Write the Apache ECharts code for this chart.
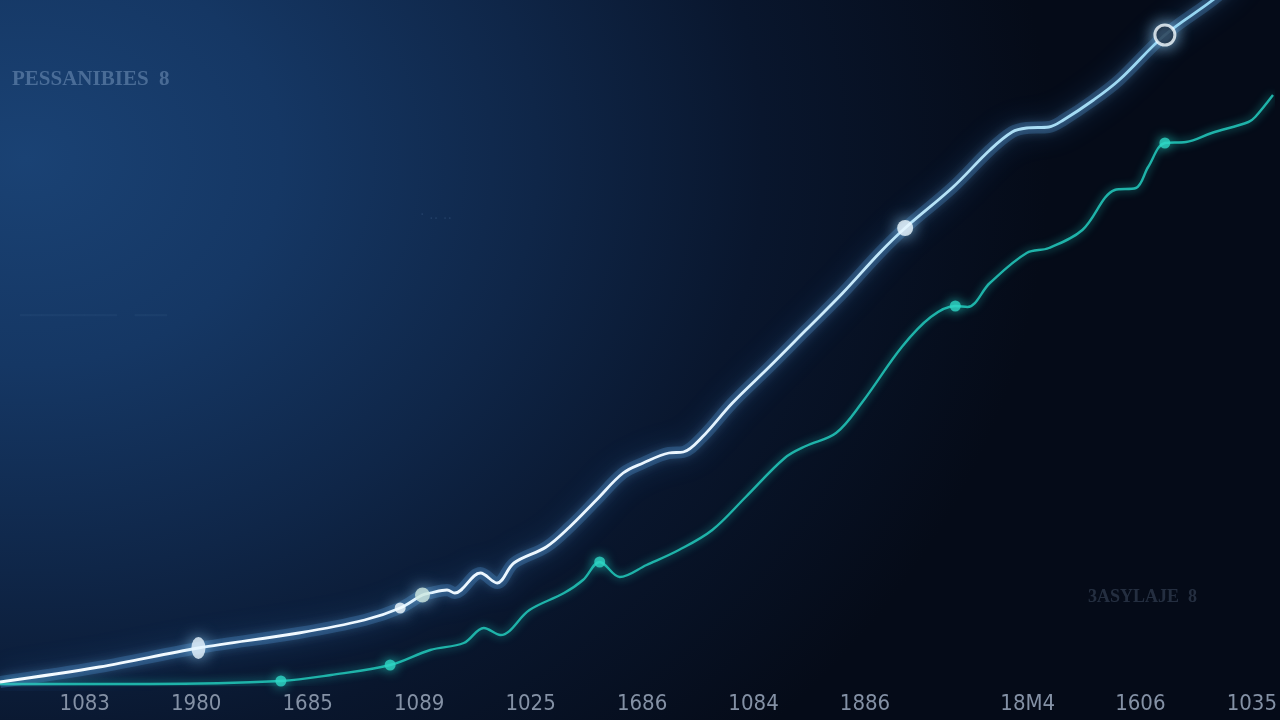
<!DOCTYPE html>
<html>
<head>
<meta charset="utf-8">
<script src="https://cdn.jsdelivr.net/npm/echarts@6/dist/echarts.min.js"></script>
<style>
html,body{margin:0;padding:0;width:1280px;height:720px;overflow:hidden;}
body{background:radial-gradient(ellipse 80% 115% at 2% 22%, #1a4274 0%, #153764 25%, #0f2648 50%, #09162d 72%, #050b18 100%);}
#chart{width:1280px;height:720px;}
</style>
</head>
<body>
<div id="chart"></div>
<script>
// x tick positions (in axis units) and their labels
const xTickValues = [0, 1, 2, 3, 4, 5, 6, 7, 8.46, 9.47, 10.47];
const xTickLabels = ['1083', '1980', '1685', '1089', '1025', '1686', '1084', '1886', '18M4', '1606', '1035'];

// upper (white) series
const whiteX = [-0.76, 0.13, 1.02, 1.92, 2.51, 2.83, 3.03, 3.10, 3.25, 3.32, 3.55, 3.70, 3.85, 4.14, 4.35, 4.59, 4.83, 5.01, 5.24, 5.37, 5.54, 5.81, 6.14, 6.47, 6.80, 7.13, 7.36, 7.79, 8.12, 8.32, 8.45, 8.65, 8.78, 9.05, 9.28, 9.69, 10.12, 10.38];
const whiteY = [0.6, 3.6, 7.4, 10.4, 13.0, 15.4, 18.0, 18.4, 19.0, 18.4, 22.4, 20.4, 24.4, 27.6, 31.6, 37.0, 42.4, 44.4, 46.4, 46.6, 49.6, 56.4, 63.6, 71.0, 78.4, 86.4, 91.4, 99.6, 107.0, 110.6, 111.4, 111.6, 113.0, 117.0, 121.0, 130.0, 137.0, 142.0];
const whiteMarkers = [2, 5, 6, 26, 35];

// lower (teal) series
const tealX = [-0.76, 0.58, 1.76, 2.21, 2.74, 3.10, 3.40, 3.58, 3.73, 3.99, 4.30, 4.47, 4.62, 4.80, 5.04, 5.33, 5.63, 5.93, 6.28, 6.47, 6.74, 6.97, 7.33, 7.59, 7.81, 7.92, 8.12, 8.45, 8.65, 8.95, 9.24, 9.43, 9.54, 9.69, 9.88, 10.11, 10.44, 10.50, 10.66];
const tealY = [0.2, 0.2, 0.8, 2.0, 4.0, 7.0, 8.4, 11.4, 10.0, 15.0, 18.4, 21.0, 24.6, 21.6, 24.0, 27.0, 31.0, 37.6, 45.4, 47.8, 50.4, 56.4, 67.6, 73.6, 75.8, 75.6, 80.4, 86.4, 87.4, 91.0, 99.0, 99.4, 103.6, 108.4, 108.6, 110.4, 112.6, 113.6, 118.0];
const tealMarkers = [2, 4, 12, 24, 33];

const pairs = (xs, ys) => xs.map((x, i) => [x, ys[i]]);
const whiteData = pairs(whiteX, whiteY);
const tealData = pairs(tealX, tealY);

const whiteMarkStyle = {
  2: {size: [14, 22], color: '#e9f6ff', border: 0},
  5: {size: 11, color: '#f2fbff', border: 0},
  6: {size: 15, color: '#cfe9e0', border: 0},
  26: {size: 16, color: '#eef9ff', border: 0},
  35: {size: 20, color: '#07101f', border: 3}
};

const chart = echarts.init(document.getElementById('chart'), null, {renderer: 'canvas'});
chart.setOption({
  backgroundColor: 'transparent',
  animation: false,
  grid: {left: 0, right: 0, top: 0, bottom: 35, containLabel: false},
  xAxis: {
    type: 'value', min: -0.76, max: 10.66,
    axisLine: {show: false}, axisTick: {show: false}, splitLine: {show: false},
    axisLabel: {
      customValues: xTickValues,
      margin: 8,
      color: '#8491a5',
      fontSize: 22,
      fontFamily: "'Liberation Sans Narrow', 'DejaVu Sans Condensed', 'Liberation Sans', sans-serif",
      formatter: function (v) {
        let best = 0;
        for (let i = 0; i < xTickValues.length; i++) {
          if (Math.abs(xTickValues[i] - v) < Math.abs(xTickValues[best] - v)) best = i;
        }
        return xTickLabels[best];
      }
    }
  },
  yAxis: {type: 'value', min: 0, max: 137, show: false, splitLine: {show: false}},
  graphic: [
    {type: 'text', left: 12, top: 69, silent: true, style: {text: 'PESSANIBIES  8', fill: 'rgba(150,180,215,0.40)', font: "bold 21px 'Liberation Serif', serif"}},
    {type: 'text', left: 20, top: 302, silent: true, style: {text: '▁▁▁▁▁▁▁▁▁    ▁▁▁', fill: 'rgba(120,160,205,0.07)', font: "14px 'DejaVu Sans', sans-serif"}},
    {type: 'text', left: 420, top: 208, silent: true, style: {text: '· ‥ ‥', fill: 'rgba(120,160,205,0.15)', font: "14px 'DejaVu Sans', sans-serif"}},
    {type: 'text', left: 1088, top: 588, silent: true, style: {text: '3ASYLAJE  8', fill: 'rgba(120,140,170,0.28)', font: "bold 18px 'Liberation Serif', serif"}}
  ],
  series: [
    {
      type: 'line', data: whiteData, smooth: 0.35, showSymbol: false, silent: true, z: 2,
      lineStyle: {width: 12, color: 'rgba(90,175,255,0.22)', shadowBlur: 28, shadowColor: 'rgba(70,160,255,0.85)'}
    },
    {
      type: 'line', data: tealData, smooth: 0.35, showSymbol: false, silent: true, z: 3,
      lineStyle: {width: 2.4, color: '#1fb3a9', shadowBlur: 8, shadowColor: 'rgba(30,210,200,0.7)'}
    },
    {
      type: 'line', data: whiteData, smooth: 0.35, showSymbol: false, silent: true, z: 4,
      lineStyle: {
        width: 2.8,
        color: {type: 'linear', x: 0, y: 0, x2: 1, y2: 0, colorStops: [
          {offset: 0, color: '#f4fbff'}, {offset: 0.55, color: '#eaf6ff'}, {offset: 0.75, color: '#b7e3f7'}, {offset: 1, color: '#8fd3f0'}
        ]},
        shadowBlur: 12, shadowColor: 'rgba(120,200,255,0.95)'
      }
    },
    {
      type: 'scatter', silent: true, z: 6,
      data: tealMarkers.map(i => tealData[i]),
      symbolSize: 11,
      itemStyle: {color: '#2fd6c4', shadowBlur: 12, shadowColor: 'rgba(40,230,210,0.9)'}
    },
    {
      type: 'scatter', silent: true, z: 7,
      data: whiteMarkers.map(i => {
        const s = whiteMarkStyle[i];
        return {
          value: whiteData[i],
          symbolSize: s.size,
          itemStyle: {color: s.color, borderColor: '#f4fbff', borderWidth: s.border, shadowBlur: 16, shadowColor: 'rgba(150,215,255,1)'}
        };
      })
    }
  ]
});
</script>
</body>
</html>
